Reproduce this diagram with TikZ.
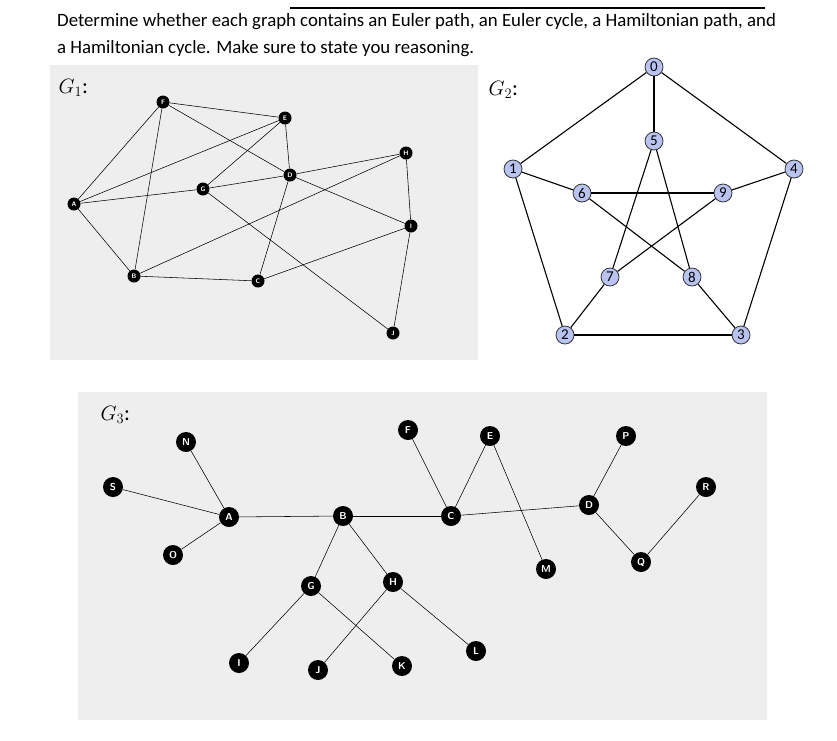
\documentclass[tikz,border=0pt]{standalone}
\usepackage{fontspec}
\setmainfont{Carlito}
\begin{document}
\begin{tikzpicture}[x=1pt,y=-1pt,
  bv/.style={circle,fill=black,text=white,inner sep=0pt,minimum size=13pt,font=\sffamily\bfseries\fontsize{6.5}{6.5}\selectfont},
  cv/.style={circle,fill=black,text=white,inner sep=0pt,minimum size=20pt,font=\sffamily\bfseries\fontsize{10}{10}\selectfont},
  pv/.style={circle,draw=black!80,fill={rgb,255:red,185;green,195;blue,240},line width=0.8pt,inner sep=0pt,minimum size=18pt,font=\fontsize{15}{15}\selectfont},
  e1/.style={line width=0.55pt},
  e2/.style={line width=1.1pt}]
\useasboundingbox (0,0) rectangle (837,740);
\fill[white] (0,0) rectangle (837,740);
\draw[line width=2pt] (290,8) -- (765,8);
\node[anchor=west,inner sep=0pt,font=\fontsize{18.8}{20}\selectfont] (t1) at (57,22) {Determine whether each graph contains an Euler path, an Euler cycle, a Hamiltonian path, and};
\node[anchor=west,inner sep=0pt,font=\fontsize{18.8}{20}\selectfont] (t2) at (57,49) {a Hamiltonian cycle. Make sure to state you reasoning.};
% G1
\fill[gray!13] (50,65) rectangle (478,360);
\node[anchor=west,font=\fontsize{22}{22}\selectfont] (l1) at (55,88) {$G_1$:};
\foreach \n/\x/\y in {F/163/102,E/285/118,H/406/153,D/290/175,G/203/189,A/74/204,I/411/226,B/134/276,C/258/281,J/393/333}
  \node[bv] (\n) at (\x,\y) {\n};
\foreach \a/\b in {A/F,A/E,A/G,A/B,F/B,F/E,F/D,E/D,E/G,G/D,G/J,D/H,D/I,D/C,H/B,H/I,I/C,I/J,B/C}
  \draw[e1] (\a) -- (\b);
% G2
\node[anchor=west,font=\fontsize{22}{22}\selectfont] (l2) at (485,90) {$G_2$:};
\foreach \n/\x/\y in {0/654/67,5/654/141,1/513/169,4/794/169,6/582/193,9/723/193,7/610/277,8/692/277,2/565/335,3/741/335}
  \node[pv] (p\n) at (\x,\y) {\n};
\foreach \a/\b in {0/1,0/5,0/4,1/6,1/2,4/9,4/3,2/3,2/7,3/8,5/7,5/8,6/9,6/8,7/9}
  \draw[e2] (p\a) -- (p\b);
% G3
\fill[gray!13] (78,392) rectangle (767,720);
\node[anchor=west,font=\fontsize{22}{22}\selectfont] (l3) at (97,415) {$G_3$:};
\foreach \n/\x/\y in {N/186/442,S/113/487,A/229/517,O/173/555,B/343/516,C/451/516,F/408/430,E/490/436,P/626/436,R/706/487,D/589/505,Q/641/562,M/546/569,G/311/586,H/393/582,L/476/651,I/239/663,J/318/670,K/402/666}
  \node[cv] (q\n) at (\x,\y) {\n};
\foreach \a/\b in {S/A,N/A,O/A,A/B,B/C,C/D,F/C,C/E,E/M,D/P,D/Q,Q/R,B/G,B/H,G/I,G/K,H/J,H/L}
  \draw[e1] (q\a) -- (q\b);
\end{tikzpicture}
\end{document}
